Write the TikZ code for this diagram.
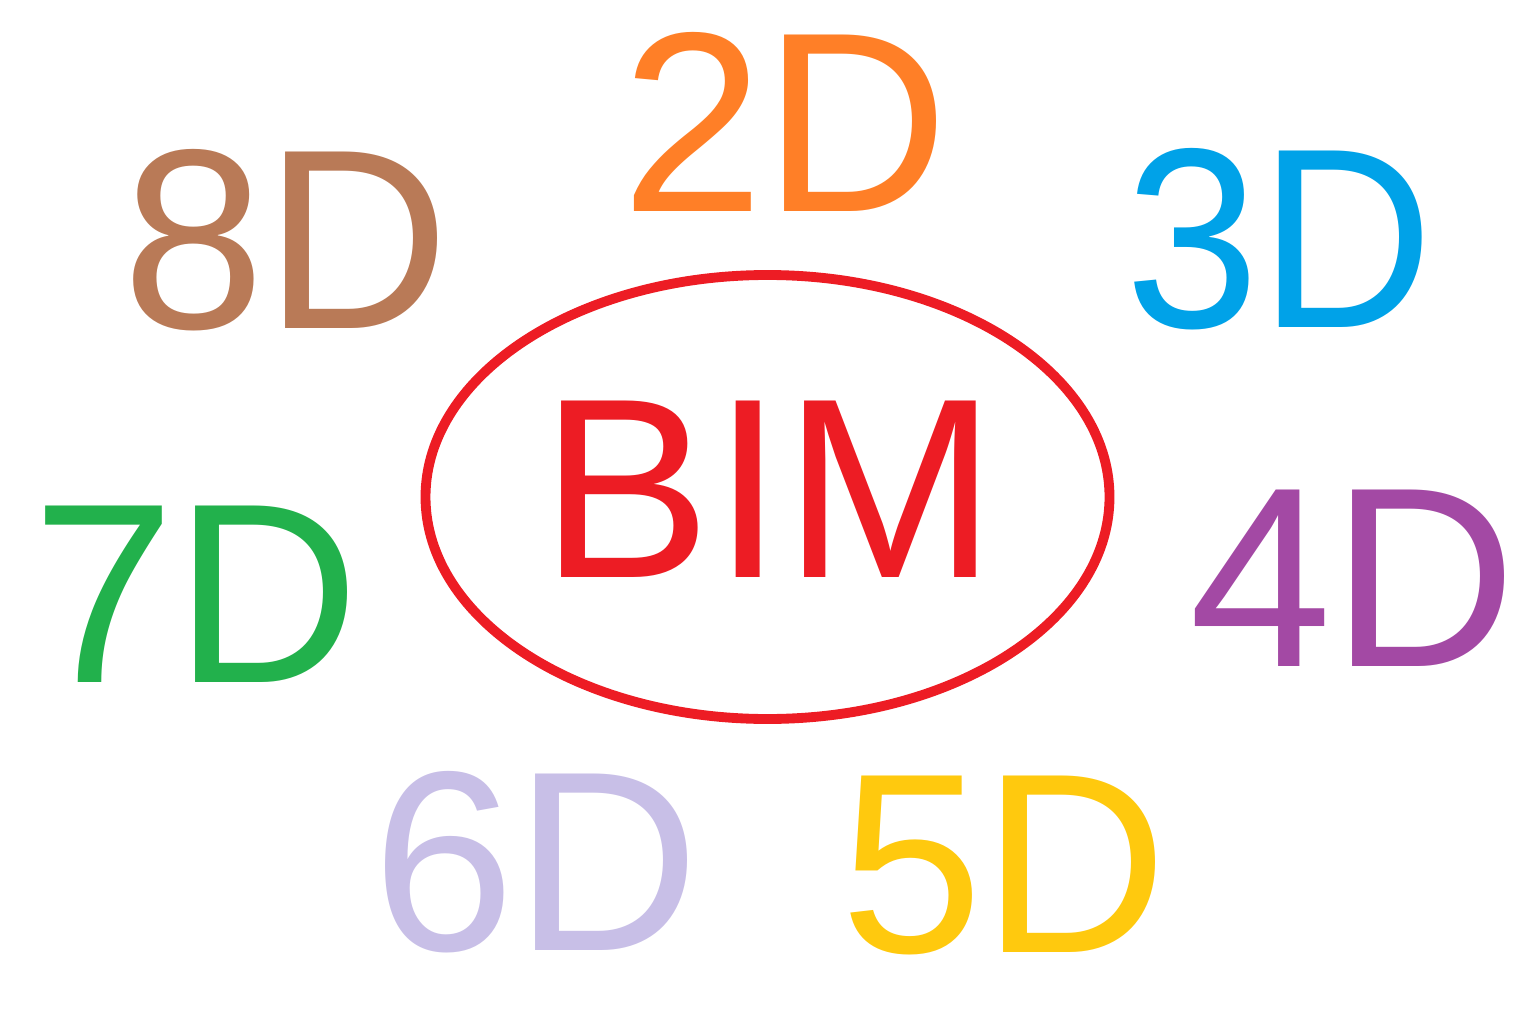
\documentclass[tikz,border=0pt]{standalone}
\usepackage{fontspec}
\setmainfont{Liberation Sans}
\definecolor{dimorange}{HTML}{FF7F27}
\definecolor{dimbrown}{HTML}{B97A57}
\definecolor{dimcyan}{HTML}{00A2E8}
\definecolor{dimgreen}{HTML}{22B14C}
\definecolor{dimred}{HTML}{ED1C24}
\definecolor{dimpurple}{HTML}{A349A4}
\definecolor{dimlilac}{HTML}{C8BFE7}
\definecolor{dimgold}{HTML}{FFC90E}
\begin{document}
\begin{tikzpicture}[dim/.style={inner sep=0pt, font=\fontsize{73}{80}\selectfont}]
    \useasboundingbox (0,0) rectangle (15.36,10.24);
    \draw[dimred, line width=2.8pt] (7.675,5.27) ellipse (3.42 and 2.22);
    \node[dim, text=dimred] (bim) at (7.69,5.35){BIM};
    \node[dim, text=dimorange] (d2) at (7.85,9.02){2D};
    \node[dim, text=dimcyan, xscale=0.94, transform shape] (d3) at (12.80,7.85){3D};
    \node[dim, text=dimpurple] (d4) at (13.53,4.46){4D};
    \node[dim, text=dimgold] (d5) at (10.04,1.59){5D};
    \node[dim, text=dimlilac] (d6) at (5.36,1.62){6D};
    \node[dim, text=dimgreen] (d7) at (1.96,4.30){7D};
    \node[dim, text=dimbrown] (d8) at (2.86,7.84){8D};
\end{tikzpicture}
\end{document}
